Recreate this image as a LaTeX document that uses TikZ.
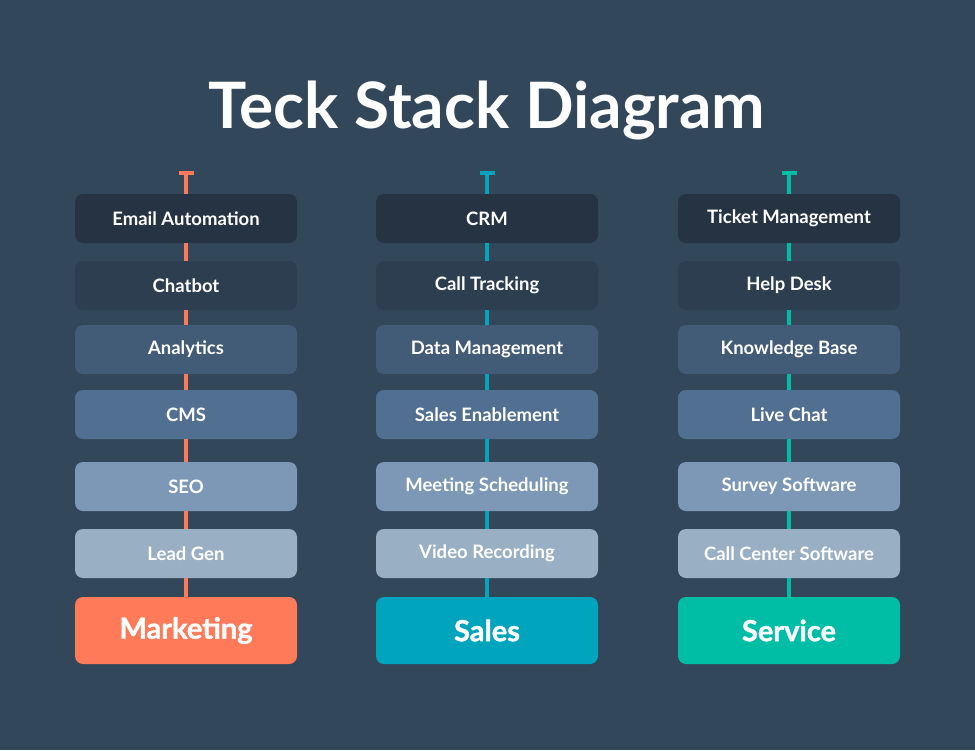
\documentclass[tikz,border=0pt]{standalone}
\usepackage{fontspec}
\setmainfont{Lato}
\newfontfamily\teamfont{Lato}[FakeBold=1.2]
\usepackage{tikz}
\definecolor{slate}{HTML}{33475B}
\definecolor{rowA}{HTML}{253342}
\definecolor{rowB}{HTML}{2D3E50}
\definecolor{rowC}{HTML}{425B76}
\definecolor{rowD}{HTML}{516F90}
\definecolor{rowE}{HTML}{7C98B6}
\definecolor{rowF}{HTML}{99AFC4}
\definecolor{mkt}{HTML}{FF7A59}
\definecolor{sls}{HTML}{00A4BD}
\definecolor{srv}{HTML}{00BDA5}
\tikzset{
  item/.style={rounded corners=8pt, minimum width=222pt, minimum height=49pt,
    text=white, font=\fontsize{18.5}{22}\selectfont\bfseries, inner sep=0pt},
  team/.style={rounded corners=8pt, minimum width=222pt, minimum height=67pt,
    text=white, font=\teamfont\fontsize{29}{34}\selectfont\bfseries, inner sep=0pt},
  stem/.style={line width=4pt},
}

\begin{document}
\begin{tikzpicture}[x=1pt,y=-1pt]
    \path[use as bounding box, fill=slate] (0,0) rectangle (975,750);

    \node[text=white, font=\fontsize{64}{70}\selectfont\bfseries] (title) at (487,110) {Teck Stack Diagram};

    % Marketing
    \coordinate (Mtop) at (186,173);
    \node[item,fill=rowA] (M1) at (186,218.5) {Email Automation};
    \node[item,fill=rowB] (M2) at (186,285.5) {Chatbot};
    \node[item,fill=rowC] (M3) at (186,349.5) {Analytics};
    \node[item,fill=rowD] (M4) at (186,414.5) {CMS};
    \node[item,fill=rowE] (M5) at (186,486.5) {SEO};
    \node[item,fill=rowF] (M6) at (186,553.5) {Lead Gen};
    \node[team,fill=mkt]  (M7) at (186,630.5) {Marketing};

    % Sales
    \coordinate (Stop) at (487,173);
    \node[item,fill=rowA] (S1) at (487,218.5) {CRM};
    \node[item,fill=rowB] (S2) at (487,285.5) {Call Tracking};
    \node[item,fill=rowC] (S3) at (487,349.5) {Data Management};
    \node[item,fill=rowD] (S4) at (487,414.5) {Sales Enablement};
    \node[item,fill=rowE] (S5) at (487,486.5) {Meeting Scheduling};
    \node[item,fill=rowF] (S6) at (487,553.5) {Video Recording};
    \node[team,fill=sls]  (S7) at (487,630.5) {Sales};

    % Service
    \coordinate (Vtop) at (789,173);
    \node[item,fill=rowA] (V1) at (789,218.5) {Ticket Management};
    \node[item,fill=rowB] (V2) at (789,285.5) {Help Desk};
    \node[item,fill=rowC] (V3) at (789,349.5) {Knowledge Base};
    \node[item,fill=rowD] (V4) at (789,414.5) {Live Chat};
    \node[item,fill=rowE] (V5) at (789,486.5) {Survey Software};
    \node[item,fill=rowF] (V6) at (789,553.5) {Call Center Software};
    \node[team,fill=srv]  (V7) at (789,630.5) {Service};

    % stems
    \foreach \c/\col in {M/mkt, S/sls, V/srv} {
      \draw[stem, \col] ([xshift=-7.5pt]\c top) -- ([xshift=7.5pt]\c top);
      \draw[stem, \col] (\c top) -- (\c1.north);
      \foreach \a/\b in {1/2, 2/3, 3/4, 4/5, 5/6, 6/7}
        \draw[stem, \col] (\c\a.south) -- (\c\b.north);
    }
\end{tikzpicture}
\end{document}
